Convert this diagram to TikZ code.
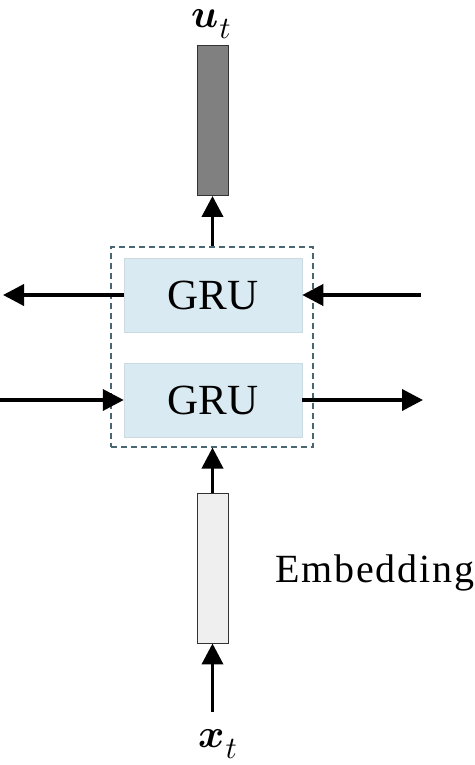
\documentclass[tikz,border=0pt]{standalone}
\usepackage{fontspec}
\setmainfont{Liberation Serif}
\newfontfamily\embfont[LetterSpace=4.5]{Liberation Serif}
\usepackage{amsmath,bm}
\usetikzlibrary{arrows.meta}
\definecolor{grublue}{HTML}{DAEAF2}
\definecolor{darkbar}{HTML}{808080}
\definecolor{lightbar}{HTML}{EFEFEF}
\definecolor{dashcol}{HTML}{4A6670}
\tikzset{
  vecbar/.style={draw=black!80, line width=0.9pt, minimum width=31pt, minimum height=150pt, inner sep=0pt},
  grubox/.style={fill=grublue, draw=grublue!85!gray, line width=0.5pt, minimum width=178pt, minimum height=74pt, inner sep=0pt, font=\fontsize{43}{43}\selectfont},
  dashbox/.style={draw=dashcol, dash pattern=on 6pt off 4pt, line width=1.1pt, minimum width=202pt, minimum height=200pt, inner sep=0pt},
  arr/.style={line width=3.8pt, -{Triangle[length=21pt,width=21pt]}},
  mathlabel/.style={inner sep=0pt, anchor=base west}
}
\newcommand{\veclabel}[1]{\scalebox{4.0}{$\bm{#1}$}\kern1pt\raisebox{-11pt}{\scalebox{3.1}{$t$}}}
\begin{document}
\begin{tikzpicture}[x=1pt,y=-1pt]
\useasboundingbox (0,0) rectangle (474,765);
\node[dashbox] (dash) at (212,347) {};
\node[grubox] (gru1) at (213,295) {GRU};
\node[grubox] (gru2) at (213,400) {GRU};
\node[vecbar, fill=darkbar] (ubar) at (212.5,120.5) {};
\node[vecbar, fill=lightbar] (ebar) at (212.5,568) {};
\node[mathlabel] (ut) at (191,28) {\veclabel{u}};
\node[mathlabel] (xt) at (198,747) {\veclabel{x}};
\node[anchor=base west, inner sep=0pt, font=\embfont\fontsize{40}{40}\selectfont] (emb) at (275,582) {Embedding};
\coordinate (L1) at (3,295);
\coordinate (L2) at (0,400);
\coordinate (R1) at (421,295);
\coordinate (R2) at (423,400);
\coordinate (xs) at (212.5,712);
\draw[arr] (gru1.west) -- (L1);
\draw[arr] (L2) -- (gru2.west);
\draw[arr] (R1) -- (gru1.east);
\draw[arr] (gru2.east) -- (R2);
\draw[arr] (dash.north -| ubar.south) -- (ubar.south);
\draw[arr] (ebar.north) -- (dash.south -| ebar.north);
\draw[arr] (xs) -- (ebar.south);
\end{tikzpicture}
\end{document}
